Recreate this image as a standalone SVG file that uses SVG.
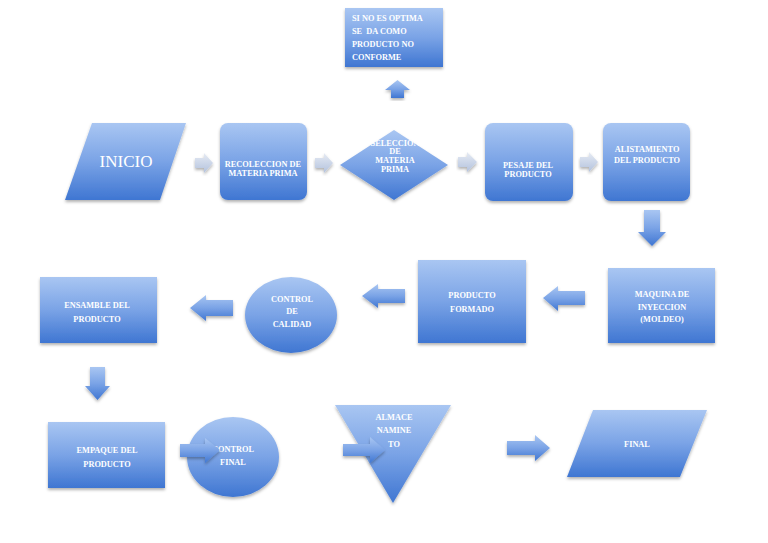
<svg xmlns="http://www.w3.org/2000/svg" width="768" height="543" viewBox="0 0 768 543">
<defs>
<linearGradient id="gBlue" x1="0" y1="0" x2="0" y2="1">
<stop offset="0" stop-color="#a9c6f2"/>
<stop offset="0.5" stop-color="#7aa3e6"/>
<stop offset="1" stop-color="#3f76d2"/>
</linearGradient>
<linearGradient id="gLight" x1="0" y1="0" x2="0" y2="1">
<stop offset="0" stop-color="#e6ebf4"/>
<stop offset="1" stop-color="#b3c2dd"/>
</linearGradient>
<filter id="sh" x="-10%" y="-10%" width="120%" height="125%">
<feDropShadow dx="0" dy="2" stdDeviation="1.5" flood-color="#000" flood-opacity="0.3"/>
</filter>
</defs>
<style>
.n{fill:url(#gBlue);filter:url(#sh);}
.a{fill:url(#gBlue);filter:url(#sh);}
.al{fill:url(#gLight);filter:url(#sh);}
text{font-family:"Liberation Serif","DejaVu Serif",serif;fill:#ffffff;font-weight:bold;font-size:8.3px;text-anchor:middle;}
.big{font-size:17px;font-weight:normal;}
.l{text-anchor:start;}
</style>
<rect width="768" height="543" fill="#ffffff"/>

<g id="no-conforme">
<rect class="n" x="345" y="8" width="98" height="59"/>
<text class="l" x="352" y="21">SI NO ES OPTIMA</text>
<text class="l" x="352" y="34" xml:space="preserve">SE  DA COMO</text>
<text class="l" x="352" y="47">PRODUCTO NO</text>
<text class="l" x="352" y="60">CONFORME</text>
</g>

<g id="inicio">
<polygon class="n" points="92,123 186,123 160,200 65,200"/>
<text class="big" x="126" y="167">INICIO</text>
</g>

<g id="recoleccion">
<rect class="n" x="220" y="123" width="87" height="77" rx="8"/>
<text x="263" y="167">RECOLECCION DE</text>
<text x="263" y="176">MATERIA PRIMA</text>
</g>

<g id="seleccion">
<polygon class="n" points="394,130 448,165 394,200 340,165"/>
<text x="395" y="146">SELECCION</text>
<text x="395" y="154">DE</text>
<text x="395" y="163">MATERIA</text>
<text x="395" y="172">PRIMA</text>
</g>

<g id="pesaje">
<rect class="n" x="485" y="123" width="88" height="78" rx="8"/>
<text x="528" y="168">PESAJE DEL</text>
<text x="528" y="177">PRODUCTO</text>
</g>

<g id="alistamiento">
<rect class="n" x="603" y="123" width="87" height="78" rx="8"/>
<text x="647" y="152">ALISTAMIENTO</text>
<text x="647" y="163">DEL PRODUCTO</text>
</g>

<g id="maquina">
<rect class="n" x="608" y="268" width="107" height="75"/>
<text x="662" y="297">MAQUINA DE</text>
<text x="662" y="310">INYECCION</text>
<text x="662" y="322">(MOLDEO)</text>
</g>

<g id="producto-formado">
<rect class="n" x="418" y="260" width="108" height="83"/>
<text x="472" y="298">PRODUCTO</text>
<text x="472" y="312">FORMADO</text>
</g>

<g id="control-calidad">
<ellipse class="n" cx="291" cy="315" rx="46" ry="38"/>
<text x="292" y="302">CONTROL</text>
<text x="292" y="314">DE</text>
<text x="292" y="327">CALIDAD</text>
</g>

<g id="ensamble">
<rect class="n" x="40" y="277" width="117" height="66"/>
<text x="97" y="308">ENSAMBLE DEL</text>
<text x="97" y="322">PRODUCTO</text>
</g>

<g id="empaque">
<rect class="n" x="48" y="422" width="117" height="66"/>
<text x="107" y="453">EMPAQUE DEL</text>
<text x="107" y="467">PRODUCTO</text>
</g>

<g id="control-final">
<ellipse class="n" cx="233" cy="457" rx="46" ry="40"/>
<text x="233" y="452">CONTROL</text>
<text x="233" y="465">FINAL</text>
</g>

<g id="almacenamiento">
<polygon class="n" points="335,405 451,405 393,503"/>
<text x="394" y="420">ALMACE</text>
<text x="394" y="433">NAMINE</text>
<text x="394" y="447">TO</text>
</g>

<g id="final">
<polygon class="n" points="593,410 707,410 680,477 567,477"/>
<text x="637" y="447">FINAL</text>
</g>

<g id="connectors">
<path class="a" d="M397.5,80 L410,90 H404 V98 H391 V90 H385 Z"/>
<path class="al" d="M195,158 H204 V153 L213,163 L204,173 V168 H195 Z"/>
<path class="al" d="M315,158 H324 V153 L333,163 L324,173 V168 H315 Z"/>
<path class="al" d="M458,157 H467 V152 L477,162 L467,172 V167 H458 Z"/>
<path class="al" d="M580,157 H589 V152 L598,162 L589,172 V167 H580 Z"/>
<path class="a" d="M644,210 H660 V232 H666 L652,246 L638,232 H644 Z"/>
<path class="a" d="M585,291 H558 V286 L543,298 L558,311 V305 H585 Z"/>
<path class="a" d="M405,289 H378 V284 L362,296 L378,308 V303 H405 Z"/>
<path class="a" d="M233,300 H206 V295 L190,308 L206,321 V316 H233 Z"/>
<path class="a" d="M90,367 H105 V386 H110 L97.5,400 L85,386 H90 Z"/>
<path class="a" d="M180,444 H205 V438 L220,450 L205,463 V457 H180 Z"/>
<path class="a" d="M343,444 H370 V437 L385,450 L370,463 V456 H343 Z"/>
<path class="a" d="M507,441 H535 V435 L550,448 L535,461 V455 H507 Z"/>
</g>
</svg>
